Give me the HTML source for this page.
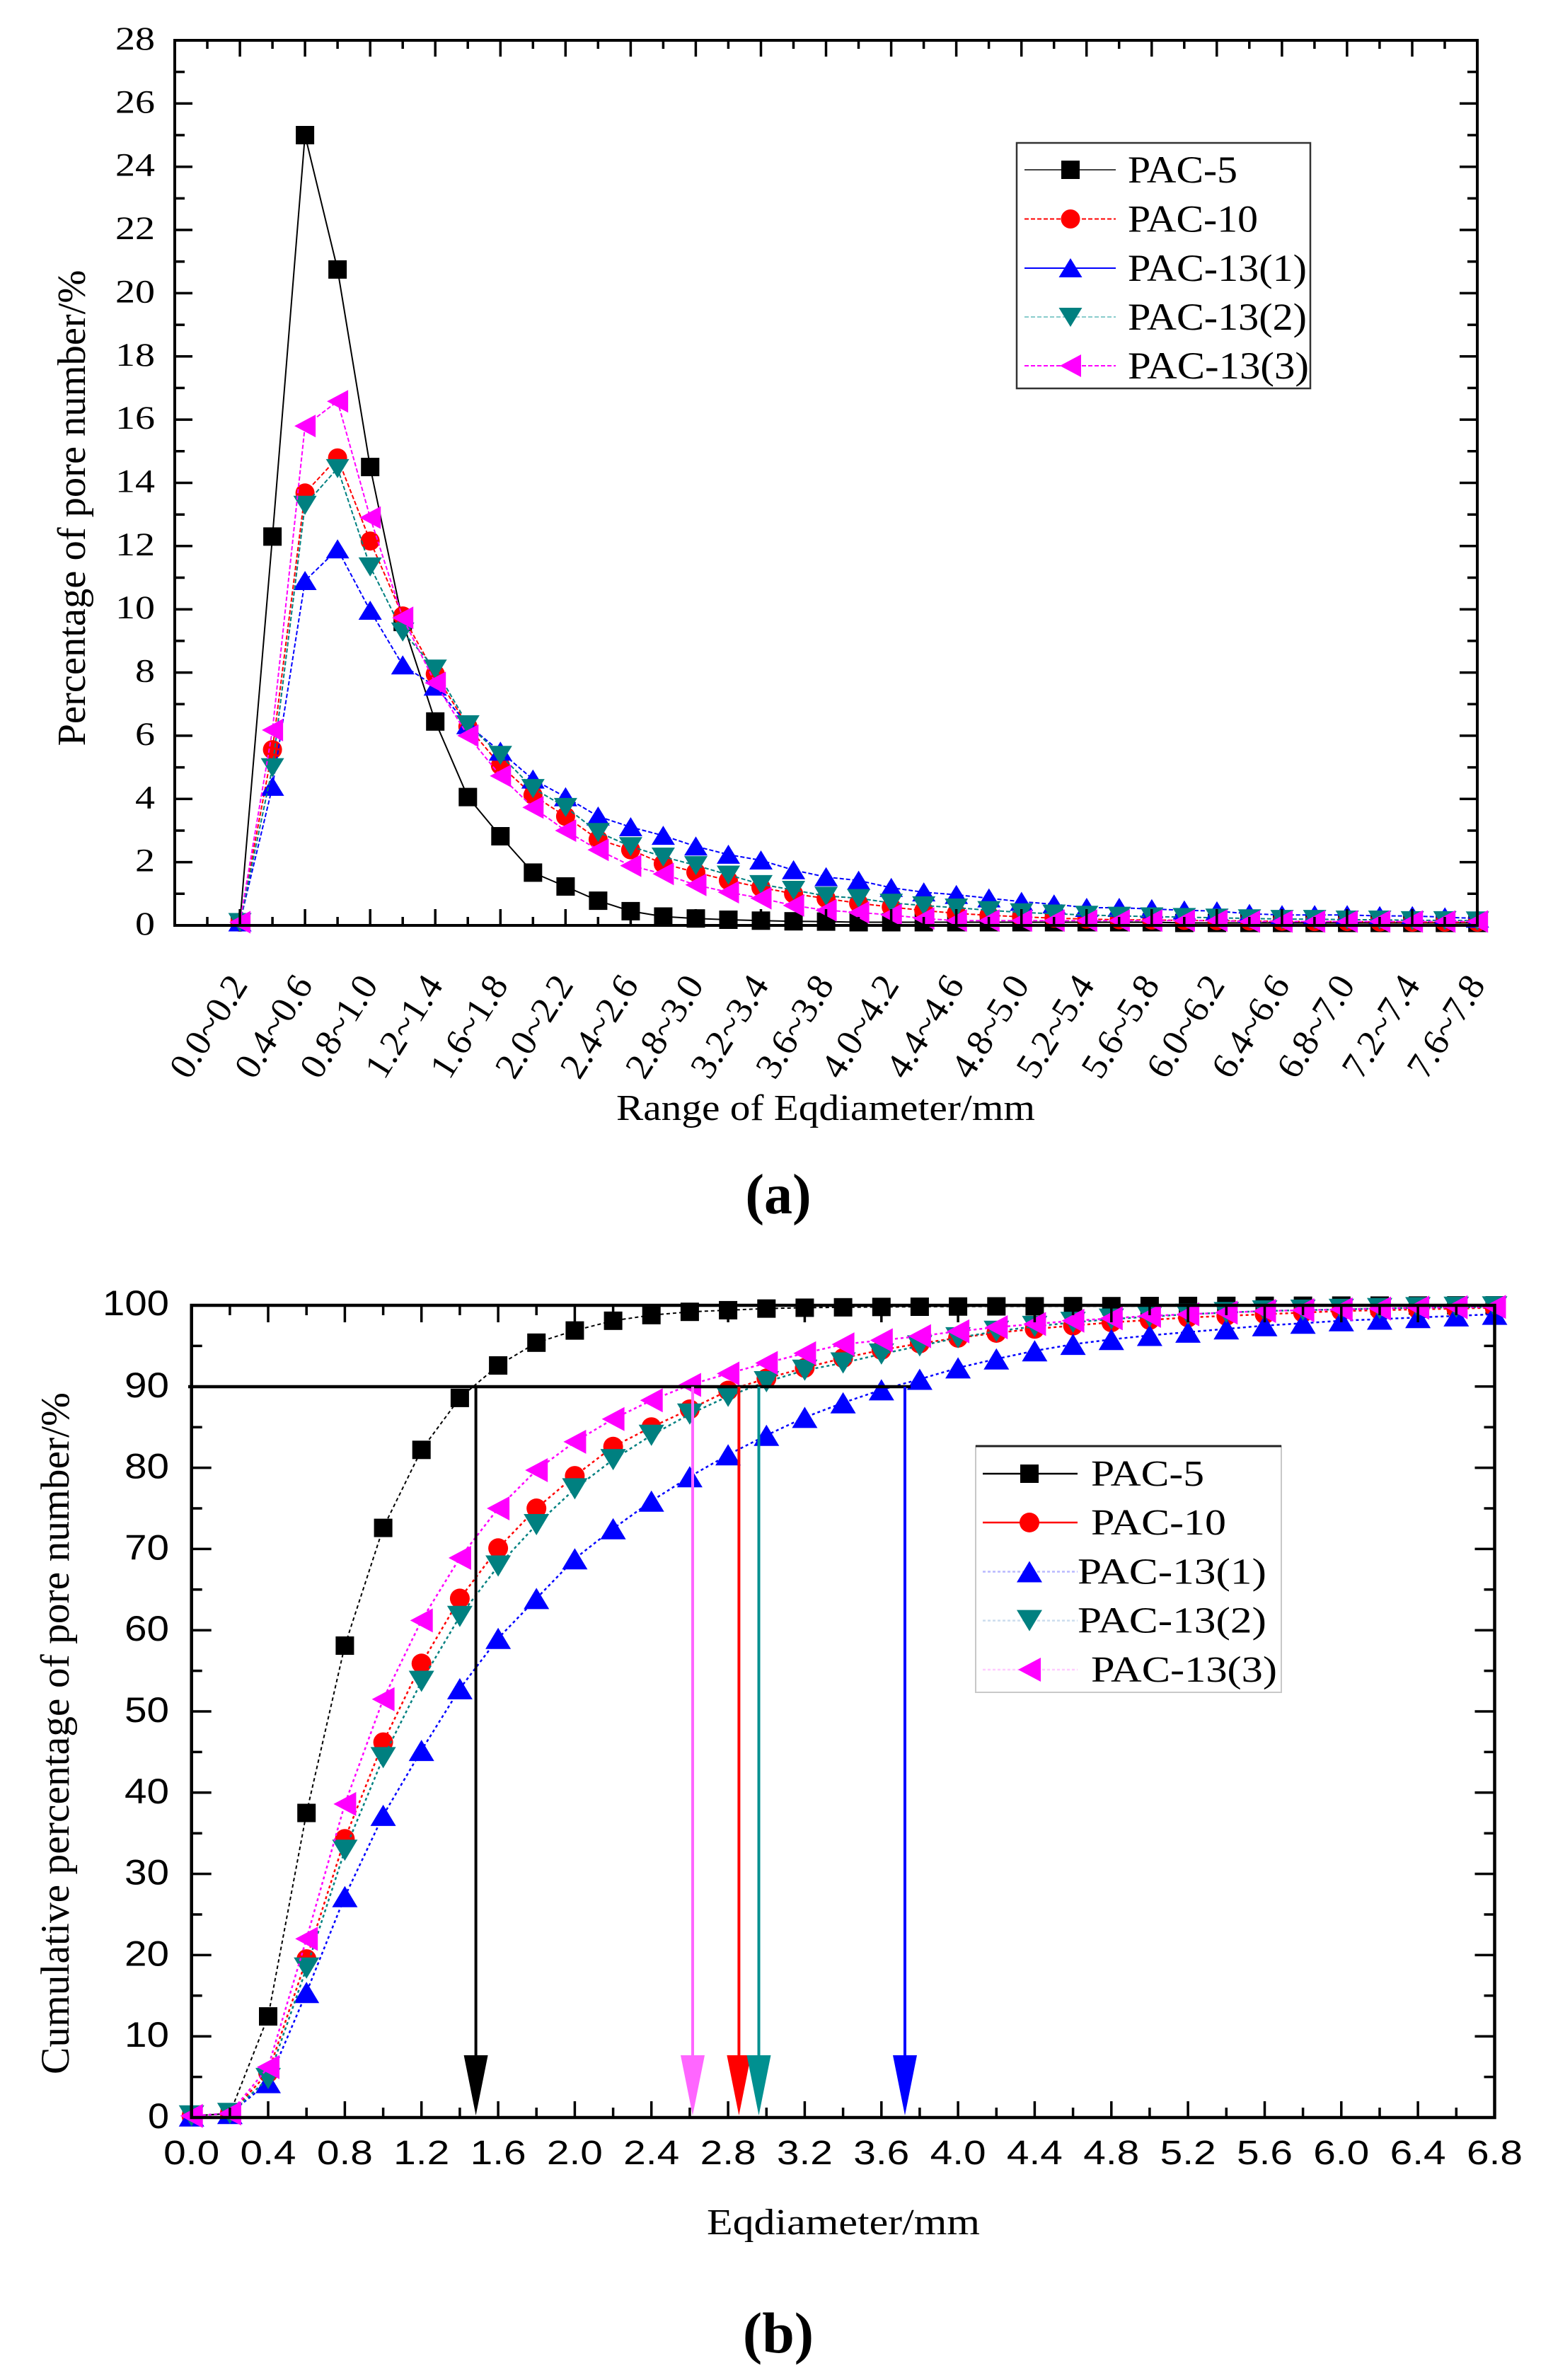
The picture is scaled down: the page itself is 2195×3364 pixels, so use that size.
<!DOCTYPE html>
<html><head><meta charset="utf-8"><style>html,body{margin:0;padding:0;background:#fff}svg{display:block}</style></head>
<body>
<svg xmlns="http://www.w3.org/2000/svg" width="2195" height="3364" viewBox="0 0 2195 3364">
<defs>
<marker id="aSq" markerUnits="userSpaceOnUse" viewBox="-30 -30 60 60" markerWidth="60" markerHeight="60" refX="0" refY="0" overflow="visible"><rect x="-13" y="-13" width="26" height="26" fill="#000"/></marker>
<marker id="aCi" markerUnits="userSpaceOnUse" viewBox="-30 -30 60 60" markerWidth="60" markerHeight="60" refX="0" refY="0" overflow="visible"><circle r="13.5" fill="#f00"/></marker>
<marker id="aUp" markerUnits="userSpaceOnUse" viewBox="-30 -30 60 60" markerWidth="60" markerHeight="60" refX="0" refY="0" overflow="visible"><polygon points="0,-14 16.5,13 -16.5,13" fill="#00f"/></marker>
<marker id="aDn" markerUnits="userSpaceOnUse" viewBox="-30 -30 60 60" markerWidth="60" markerHeight="60" refX="0" refY="0" overflow="visible"><polygon points="0,14 16.5,-13 -16.5,-13" fill="#008080"/></marker>
<marker id="aLt" markerUnits="userSpaceOnUse" viewBox="-30 -30 60 60" markerWidth="60" markerHeight="60" refX="0" refY="0" overflow="visible"><polygon points="-15,0 15,-16 15,16" fill="#f0f"/></marker>
<marker id="bSq" markerUnits="userSpaceOnUse" viewBox="-30 -30 60 60" markerWidth="60" markerHeight="60" refX="0" refY="0" overflow="visible"><rect x="-13" y="-13" width="26" height="26" fill="#000"/></marker>
<marker id="bCi" markerUnits="userSpaceOnUse" viewBox="-30 -30 60 60" markerWidth="60" markerHeight="60" refX="0" refY="0" overflow="visible"><circle r="14" fill="#f00"/></marker>
<marker id="bUp" markerUnits="userSpaceOnUse" viewBox="-30 -30 60 60" markerWidth="60" markerHeight="60" refX="0" refY="0" overflow="visible"><polygon points="0,-15 18,15 -18,15" fill="#00f"/></marker>
<marker id="bDn" markerUnits="userSpaceOnUse" viewBox="-30 -30 60 60" markerWidth="60" markerHeight="60" refX="0" refY="0" overflow="visible"><polygon points="0,15 18,-15 -18,-15" fill="#008080"/></marker>
<marker id="bLt" markerUnits="userSpaceOnUse" viewBox="-30 -30 60 60" markerWidth="60" markerHeight="60" refX="0" refY="0" overflow="visible"><polygon points="-16,0 16,-17 16,17" fill="#f0f"/></marker>
</defs>

<!-- ================= CHART (a) ================= -->
<g fill="none" stroke-linejoin="round">
<polyline stroke="#000" stroke-width="2" marker-start="url(#aSq)" marker-mid="url(#aSq)" marker-end="url(#aSq)" points="339.1,1303.5 385.1,758.4 431.1,191.0 477.1,380.9 523.2,660.1 569.2,879.1 615.2,1019.8 661.3,1126.6 707.3,1182.0 753.3,1233.4 799.4,1253.0 845.4,1273.1 891.4,1287.9 937.4,1295.5 983.5,1298.2 1029.5,1300.0 1075.5,1301.3 1121.6,1302.2 1167.6,1302.6 1213.6,1303.5 1259.7,1303.5 1305.7,1303.5 1351.7,1303.5 1397.8,1303.5 1443.8,1303.5 1489.8,1303.5 1535.9,1303.5 1581.9,1303.5 1627.9,1303.5 1673.9,1304.5 1720.0,1304.5 1766.0,1304.5 1812.0,1304.5 1858.1,1304.5 1904.1,1304.5 1950.1,1304.5 1996.2,1304.5 2042.2,1304.5 2088.2,1304.5"/>
<polyline stroke="#f00" stroke-width="2" stroke-dasharray="6 3" marker-start="url(#aCi)" marker-mid="url(#aCi)" marker-end="url(#aCi)" points="339.1,1303.5 385.1,1059.6 431.1,696.8 477.1,647.2 523.2,764.7 569.2,870.6 615.2,952.8 661.3,1027.0 707.3,1081.9 753.3,1123.9 799.4,1153.9 845.4,1186.5 891.4,1201.2 937.4,1220.9 983.5,1232.9 1029.5,1244.6 1075.5,1254.4 1121.6,1263.3 1167.6,1270.0 1213.6,1276.7 1259.7,1282.1 1305.7,1287.0 1351.7,1291.0 1397.8,1293.7 1443.8,1295.9 1489.8,1297.7 1535.9,1299.1 1581.9,1300.0 1627.9,1300.4 1673.9,1300.9 1720.0,1301.3 1766.0,1301.7 1812.0,1302.2 1858.1,1302.6 1904.1,1302.6 1950.1,1303.1 1996.2,1303.5 2042.2,1303.5 2088.2,1303.5"/>
<polyline stroke="#00f" stroke-width="2" stroke-dasharray="6 3" marker-start="url(#aUp)" marker-mid="url(#aUp)" marker-end="url(#aUp)" points="339.1,1303.5 385.1,1111.9 431.1,821.0 477.1,776.3 523.2,863.0 569.2,940.3 615.2,970.2 661.3,1024.7 707.3,1062.3 753.3,1101.6 799.4,1126.6 845.4,1153.9 891.4,1169.0 937.4,1181.1 983.5,1196.3 1029.5,1207.9 1075.5,1216.0 1121.6,1229.8 1167.6,1239.6 1213.6,1244.6 1259.7,1254.8 1305.7,1261.1 1351.7,1264.7 1397.8,1269.6 1443.8,1274.5 1489.8,1278.1 1535.9,1283.0 1581.9,1283.0 1627.9,1284.8 1673.9,1286.6 1720.0,1287.9 1766.0,1291.5 1812.0,1293.3 1858.1,1293.3 1904.1,1293.3 1950.1,1294.6 1996.2,1294.6 2042.2,1296.4 2088.2,1298.2"/>
<polyline stroke="#008080" stroke-width="2" stroke-dasharray="6 3" marker-start="url(#aDn)" marker-mid="url(#aDn)" marker-end="url(#aDn)" points="339.1,1303.5 385.1,1084.6 431.1,713.8 477.1,661.9 523.2,800.9 569.2,892.9 615.2,945.2 661.3,1024.0 707.3,1067.2 753.3,1114.1 799.4,1140.9 845.4,1176.2 891.4,1196.3 937.4,1211.0 983.5,1223.1 1029.5,1236.5 1075.5,1249.9 1121.6,1258.0 1167.6,1266.4 1213.6,1269.6 1259.7,1276.3 1305.7,1279.9 1351.7,1283.0 1397.8,1286.6 1443.8,1289.7 1489.8,1291.5 1535.9,1293.3 1581.9,1294.6 1627.9,1295.5 1673.9,1296.4 1720.0,1297.3 1766.0,1298.2 1812.0,1299.1 1858.1,1299.1 1904.1,1300.0 1950.1,1300.0 1996.2,1300.9 2042.2,1300.9 2088.2,1301.3"/>
<polyline stroke="#f0f" stroke-width="2" stroke-dasharray="6 3" marker-start="url(#aLt)" marker-mid="url(#aLt)" marker-end="url(#aLt)" points="339.1,1303.5 385.1,1031.9 431.1,602.1 477.1,567.2 523.2,731.6 569.2,873.3 615.2,965.3 661.3,1039.9 707.3,1096.7 753.3,1141.3 799.4,1174.0 845.4,1201.2 891.4,1223.6 937.4,1235.2 983.5,1250.8 1029.5,1261.1 1075.5,1269.6 1121.6,1279.9 1167.6,1286.6 1213.6,1289.7 1259.7,1293.3 1305.7,1298.2 1351.7,1301.3 1397.8,1301.3 1443.8,1301.3 1489.8,1301.3 1535.9,1301.3 1581.9,1301.3 1627.9,1301.3 1673.9,1301.3 1720.0,1301.3 1766.0,1302.5 1812.0,1302.5 1858.1,1302.5 1904.1,1302.5 1950.1,1302.5 1996.2,1302.5 2042.2,1302.5 2088.2,1302.5"/>
</g>

<!-- axes (a) -->
<rect x="247" y="57" width="1841" height="1251" fill="none" stroke="#000" stroke-width="4"/>
<path stroke="#000" stroke-width="3.5" fill="none" d="
M247,1218.6h25M247,1129.3h25M247,1039.9h25M247,950.6h25M247,861.2h25M247,771.8h25M247,682.5h25M247,593.1h25M247,503.8h25M247,414.4h25M247,325.0h25M247,235.7h25M247,146.3h25
M247,1263.3h14M247,1174.0h14M247,1084.6h14M247,995.2h14M247,905.9h14M247,816.5h14M247,727.2h14M247,637.8h14M247,548.4h14M247,459.1h14M247,369.7h14M247,280.4h14M247,191.0h14M247,101.6h14
M2088,1218.6h-25M2088,1129.3h-25M2088,1039.9h-25M2088,950.6h-25M2088,861.2h-25M2088,771.8h-25M2088,682.5h-25M2088,593.1h-25M2088,503.8h-25M2088,414.4h-25M2088,325.0h-25M2088,235.7h-25M2088,146.3h-25
M2088,1263.3h-14M2088,1174.0h-14M2088,1084.6h-14M2088,995.2h-14M2088,905.9h-14M2088,816.5h-14M2088,727.2h-14M2088,637.8h-14M2088,548.4h-14M2088,459.1h-14M2088,369.7h-14M2088,280.4h-14M2088,191.0h-14M2088,101.6h-14
M339.1,1308v-23M431.1,1308v-23M523.2,1308v-23M615.2,1308v-23M707.3,1308v-23M799.3,1308v-23M891.4,1308v-23M983.4,1308v-23M1075.5,1308v-23M1167.5,1308v-23M1259.6,1308v-23M1351.6,1308v-23M1443.7,1308v-23M1535.7,1308v-23M1627.8,1308v-23M1719.8,1308v-23M1811.9,1308v-23M1903.9,1308v-23M1996.0,1308v-23
M293.0,1308v-12M385.1,1308v-12M477.1,1308v-12M569.2,1308v-12M661.2,1308v-12M753.3,1308v-12M845.3,1308v-12M937.4,1308v-12M1029.4,1308v-12M1121.5,1308v-12M1213.5,1308v-12M1305.6,1308v-12M1397.6,1308v-12M1489.7,1308v-12M1581.7,1308v-12M1673.8,1308v-12M1765.8,1308v-12M1857.9,1308v-12M1949.9,1308v-12M2042.0,1308v-12
M339.1,57v23M431.1,57v23M523.2,57v23M615.2,57v23M707.3,57v23M799.3,57v23M891.4,57v23M983.4,57v23M1075.5,57v23M1167.5,57v23M1259.6,57v23M1351.6,57v23M1443.7,57v23M1535.7,57v23M1627.8,57v23M1719.8,57v23M1811.9,57v23M1903.9,57v23M1996.0,57v23
M293.0,57v12M385.1,57v12M477.1,57v12M569.2,57v12M661.2,57v12M753.3,57v12M845.3,57v12M937.4,57v12M1029.4,57v12M1121.5,57v12M1213.5,57v12M1305.6,57v12M1397.6,57v12M1489.7,57v12M1581.7,57v12M1673.8,57v12M1765.8,57v12M1857.9,57v12M1949.9,57v12M2042.0,57v12"/>

<!-- y labels (a) -->
<g font-family="Liberation Serif, serif" font-size="47" fill="#000" text-anchor="end">
<text x="219" y="1321" textLength="28" lengthAdjust="spacingAndGlyphs">0</text>
<text x="219" y="1231.6" textLength="28" lengthAdjust="spacingAndGlyphs">2</text>
<text x="219" y="1142.3" textLength="28" lengthAdjust="spacingAndGlyphs">4</text>
<text x="219" y="1052.9" textLength="28" lengthAdjust="spacingAndGlyphs">6</text>
<text x="219" y="963.6" textLength="28" lengthAdjust="spacingAndGlyphs">8</text>
<text x="219" y="874.2" textLength="56" lengthAdjust="spacingAndGlyphs">10</text>
<text x="219" y="784.8" textLength="56" lengthAdjust="spacingAndGlyphs">12</text>
<text x="219" y="695.5" textLength="56" lengthAdjust="spacingAndGlyphs">14</text>
<text x="219" y="606.1" textLength="56" lengthAdjust="spacingAndGlyphs">16</text>
<text x="219" y="516.8" textLength="56" lengthAdjust="spacingAndGlyphs">18</text>
<text x="219" y="427.4" textLength="56" lengthAdjust="spacingAndGlyphs">20</text>
<text x="219" y="338.0" textLength="56" lengthAdjust="spacingAndGlyphs">22</text>
<text x="219" y="248.7" textLength="56" lengthAdjust="spacingAndGlyphs">24</text>
<text x="219" y="159.3" textLength="56" lengthAdjust="spacingAndGlyphs">26</text>
<text x="219" y="70" textLength="56" lengthAdjust="spacingAndGlyphs">28</text>
</g>

<!-- x labels (a) -->
<g font-family="Liberation Serif, serif" font-size="52" fill="#000" text-anchor="end">
<text transform="translate(351.5,1392) rotate(-58)" textLength="160" lengthAdjust="spacingAndGlyphs">0.0~0.2</text>
<text transform="translate(443.5,1392) rotate(-58)" textLength="160" lengthAdjust="spacingAndGlyphs">0.4~0.6</text>
<text transform="translate(535.6,1392) rotate(-58)" textLength="160" lengthAdjust="spacingAndGlyphs">0.8~1.0</text>
<text transform="translate(627.6,1392) rotate(-58)" textLength="160" lengthAdjust="spacingAndGlyphs">1.2~1.4</text>
<text transform="translate(719.7,1392) rotate(-58)" textLength="160" lengthAdjust="spacingAndGlyphs">1.6~1.8</text>
<text transform="translate(811.8,1392) rotate(-58)" textLength="160" lengthAdjust="spacingAndGlyphs">2.0~2.2</text>
<text transform="translate(903.8,1392) rotate(-58)" textLength="160" lengthAdjust="spacingAndGlyphs">2.4~2.6</text>
<text transform="translate(995.9,1392) rotate(-58)" textLength="160" lengthAdjust="spacingAndGlyphs">2.8~3.0</text>
<text transform="translate(1087.9,1392) rotate(-58)" textLength="160" lengthAdjust="spacingAndGlyphs">3.2~3.4</text>
<text transform="translate(1180.0,1392) rotate(-58)" textLength="160" lengthAdjust="spacingAndGlyphs">3.6~3.8</text>
<text transform="translate(1272.1,1392) rotate(-58)" textLength="160" lengthAdjust="spacingAndGlyphs">4.0~4.2</text>
<text transform="translate(1364.1,1392) rotate(-58)" textLength="160" lengthAdjust="spacingAndGlyphs">4.4~4.6</text>
<text transform="translate(1456.2,1392) rotate(-58)" textLength="160" lengthAdjust="spacingAndGlyphs">4.8~5.0</text>
<text transform="translate(1548.3,1392) rotate(-58)" textLength="160" lengthAdjust="spacingAndGlyphs">5.2~5.4</text>
<text transform="translate(1640.3,1392) rotate(-58)" textLength="160" lengthAdjust="spacingAndGlyphs">5.6~5.8</text>
<text transform="translate(1732.4,1392) rotate(-58)" textLength="160" lengthAdjust="spacingAndGlyphs">6.0~6.2</text>
<text transform="translate(1824.4,1392) rotate(-58)" textLength="160" lengthAdjust="spacingAndGlyphs">6.4~6.6</text>
<text transform="translate(1916.5,1392) rotate(-58)" textLength="160" lengthAdjust="spacingAndGlyphs">6.8~7.0</text>
<text transform="translate(2008.6,1392) rotate(-58)" textLength="160" lengthAdjust="spacingAndGlyphs">7.2~7.4</text>
<text transform="translate(2100.6,1392) rotate(-58)" textLength="160" lengthAdjust="spacingAndGlyphs">7.6~7.8</text>
</g>

<g font-family="Liberation Serif, serif" fill="#000">
<text x="871" y="1583" font-size="52" textLength="592" lengthAdjust="spacingAndGlyphs">Range of Eqdiameter/mm</text>
<text transform="translate(120,718) rotate(-90)" text-anchor="middle" font-size="56" textLength="673" lengthAdjust="spacingAndGlyphs">Percentage of pore number/%</text>
<text x="1100" y="1715" text-anchor="middle" font-size="80" font-weight="bold">(a)</text>
</g>

<!-- legend (a) -->
<rect x="1437" y="202" width="415" height="347" fill="#fff" stroke="#333" stroke-width="2.5"/>
<g fill="none" stroke-width="2">
<polyline stroke="#444" points="1448,240 1513,240 1577,240" marker-mid="url(#aSq)"/>
<polyline stroke="#f00" stroke-dasharray="6 3" points="1448,309.5 1513,309.5 1577,309.5" marker-mid="url(#aCi)"/>
<polyline stroke="#00f" points="1448,379 1513,379 1577,379" marker-mid="url(#aUp)"/>
<polyline stroke="#8cc" stroke-dasharray="6 3" points="1448,448 1513,448 1577,448" marker-mid="url(#aDn)"/>
<polyline stroke="#f0f" stroke-dasharray="6 3" points="1448,517 1513,517 1577,517" marker-mid="url(#aLt)"/>
</g>
<g font-family="Liberation Serif, serif" font-size="54" fill="#000">
<text x="1594" y="258" textLength="155" lengthAdjust="spacingAndGlyphs">PAC-5</text>
<text x="1594" y="327.5" textLength="184" lengthAdjust="spacingAndGlyphs">PAC-10</text>
<text x="1594" y="397" textLength="253" lengthAdjust="spacingAndGlyphs">PAC-13(1)</text>
<text x="1594" y="466" textLength="253" lengthAdjust="spacingAndGlyphs">PAC-13(2)</text>
<text x="1594" y="535" textLength="256" lengthAdjust="spacingAndGlyphs">PAC-13(3)</text>
</g>

<!-- ================= CHART (b) ================= -->
<g fill="none" stroke-linejoin="round">
<polyline stroke="#000" stroke-width="2" stroke-dasharray="5 4" marker-start="url(#bSq)" marker-mid="url(#bSq)" marker-end="url(#bSq)" points="270.7,2990.7 324.9,2987.3 379.0,2850.1 433.2,2562.5 487.4,2326.0 541.6,2159.6 595.7,2049.3 649.9,1975.9 704.1,1930.0 758.2,1897.8 812.4,1880.6 866.6,1866.8 920.7,1858.8 974.9,1854.2 1029.1,1851.9 1083.3,1849.6 1137.4,1848.4 1191.6,1847.8 1245.8,1847.3 1299.9,1847.0 1354.1,1846.7 1408.3,1846.5 1462.4,1846.4 1516.6,1846.2 1570.8,1846.2 1624.9,1846.0 1679.1,1845.9 1733.3,1845.8 1787.5,1845.7 1841.6,1845.6 1895.8,1845.4 1950.0,1845.4 2004.1,1845.3 2058.3,1845.1 2112.5,1845.0"/>
<polyline stroke="#f00" stroke-width="2.5" stroke-dasharray="4 4" marker-start="url(#bCi)" marker-mid="url(#bCi)" marker-end="url(#bCi)" points="270.7,2990.7 324.9,2987.3 379.0,2929.9 433.2,2769.1 487.4,2599.2 541.6,2462.6 595.7,2351.3 649.9,2259.4 704.1,2188.3 758.2,2132.0 812.4,2086.1 866.6,2044.8 920.7,2017.2 974.9,1992.0 1029.1,1965.5 1083.3,1948.3 1137.4,1933.4 1191.6,1919.6 1245.8,1908.1 1299.9,1899.0 1354.1,1890.9 1408.3,1884.0 1462.4,1878.3 1516.6,1873.7 1570.8,1869.1 1624.9,1865.7 1679.1,1862.2 1733.3,1859.9 1787.5,1857.6 1841.6,1855.3 1895.8,1853.0 1950.0,1851.9 2004.1,1850.7 2058.3,1849.6 2112.5,1848.4"/>
<polyline stroke="#00f" stroke-width="2.5" stroke-dasharray="4 4" marker-start="url(#bUp)" marker-mid="url(#bUp)" marker-end="url(#bUp)" points="270.7,2990.7 324.9,2987.3 379.0,2943.6 433.2,2816.2 487.4,2680.7 541.6,2565.9 595.7,2474.1 649.9,2386.9 704.1,2315.7 758.2,2259.4 812.4,2203.2 866.6,2160.7 920.7,2121.7 974.9,2087.2 1029.1,2056.2 1083.3,2028.7 1137.4,2003.4 1191.6,1982.8 1245.8,1964.4 1299.9,1949.5 1354.1,1933.4 1408.3,1920.8 1462.4,1909.3 1516.6,1900.1 1570.8,1893.2 1624.9,1887.5 1679.1,1882.9 1733.3,1878.3 1787.5,1873.7 1841.6,1870.3 1895.8,1866.8 1950.0,1864.5 2004.1,1862.2 2058.3,1859.9 2112.5,1857.6"/>
<polyline stroke="#008080" stroke-width="2.5" stroke-dasharray="4 4" marker-start="url(#bDn)" marker-mid="url(#bDn)" marker-end="url(#bDn)" points="270.7,2990.7 324.9,2987.3 379.0,2937.9 433.2,2781.8 487.4,2615.3 541.6,2484.4 595.7,2376.5 649.9,2284.7 704.1,2213.5 758.2,2155.0 812.4,2104.4 866.6,2063.1 920.7,2028.7 974.9,1998.8 1029.1,1973.6 1083.3,1953.0 1137.4,1936.8 1191.6,1926.5 1245.8,1913.9 1299.9,1902.4 1354.1,1890.9 1408.3,1881.7 1462.4,1874.9 1516.6,1869.1 1570.8,1864.5 1624.9,1861.1 1679.1,1857.6 1733.3,1855.3 1787.5,1853.0 1841.6,1851.9 1895.8,1850.7 1950.0,1849.6 2004.1,1848.4 2058.3,1847.8 2112.5,1847.3"/>
<polyline stroke="#f0f" stroke-width="2.5" stroke-dasharray="4 4" marker-start="url(#bLt)" marker-mid="url(#bLt)" marker-end="url(#bLt)" points="270.7,2990.7 324.9,2987.3 379.0,2921.8 433.2,2740.4 487.4,2549.9 541.6,2401.8 595.7,2290.4 649.9,2202.0 704.1,2132.0 758.2,2078.0 812.4,2037.9 866.6,2005.7 920.7,1979.3 974.9,1957.5 1029.1,1941.4 1083.3,1926.5 1137.4,1912.7 1191.6,1900.1 1245.8,1894.4 1299.9,1888.6 1354.1,1881.7 1408.3,1876.0 1462.4,1871.4 1516.6,1866.8 1570.8,1863.4 1624.9,1859.9 1679.1,1857.6 1733.3,1855.3 1787.5,1853.0 1841.6,1851.9 1895.8,1850.7 1950.0,1849.6 2004.1,1848.4 2058.3,1847.8 2112.5,1847.3"/>
</g>

<!-- arrows (b) -->
<g stroke-width="4" fill="none">
<line x1="266" y1="1960" x2="1287" y2="1960" stroke="#000" stroke-width="4.5"/>
<line x1="672.6" y1="1960" x2="672.6" y2="2910" stroke="#000"/>
<line x1="979" y1="1960" x2="979" y2="2910" stroke="#ff66ff"/>
<line x1="1044.4" y1="1960" x2="1044.4" y2="2910" stroke="#f00"/>
<line x1="1072.5" y1="1960" x2="1072.5" y2="2910" stroke="#009090"/>
<line x1="1279" y1="1960" x2="1279" y2="2910" stroke="#00f"/>
</g>
<polygon points="655.6,2905 689.6,2905 672.6,2990" fill="#000"/>
<polygon points="962,2905 996,2905 979,2990" fill="#ff66ff"/>
<polygon points="1027.4,2905 1061.4,2905 1044.4,2990" fill="#f00"/>
<polygon points="1055.5,2905 1089.5,2905 1072.5,2990" fill="#009090"/>
<polygon points="1262,2905 1296,2905 1279,2990" fill="#00f"/>

<!-- axes (b) -->
<rect x="270.7" y="1845" width="1841.8" height="1148" fill="none" stroke="#000" stroke-width="4.5"/>
<path stroke="#000" stroke-width="3.5" fill="none" d="
M379.0,2993v-23M487.4,2993v-23M595.7,2993v-23M704.1,2993v-23M812.4,2993v-23M920.7,2993v-23M1029.1,2993v-23M1137.4,2993v-23M1245.8,2993v-23M1354.1,2993v-23M1462.4,2993v-23M1570.8,2993v-23M1679.1,2993v-23M1787.5,2993v-23M1895.8,2993v-23M2004.1,2993v-23
M324.9,2993v-14M433.2,2993v-14M541.6,2993v-14M649.9,2993v-14M758.2,2993v-14M866.6,2993v-14M974.9,2993v-14M1083.3,2993v-14M1191.6,2993v-14M1299.9,2993v-14M1408.3,2993v-14M1516.6,2993v-14M1624.9,2993v-14M1733.3,2993v-14M1841.6,2993v-14M1950.0,2993v-14M2058.3,2993v-14
M379.0,1845v24M487.4,1845v24M595.7,1845v24M704.1,1845v24M812.4,1845v24M920.7,1845v24M1029.1,1845v24M1137.4,1845v24M1245.8,1845v24M1354.1,1845v24M1462.4,1845v24M1570.8,1845v24M1679.1,1845v24M1787.5,1845v24M1895.8,1845v24M2004.1,1845v24
M324.9,1845v14M433.2,1845v14M541.6,1845v14M649.9,1845v14M758.2,1845v14M866.6,1845v14M974.9,1845v14M1083.3,1845v14M1191.6,1845v14M1299.9,1845v14M1408.3,1845v14M1516.6,1845v14M1624.9,1845v14M1733.3,1845v14M1841.6,1845v14M1950.0,1845v14M2058.3,1845v14
M270.7,2878.2h28M270.7,2763.4h28M270.7,2648.6h28M270.7,2533.8h28M270.7,2419.0h28M270.7,2304.2h28M270.7,2189.4h28M270.7,2074.6h28M270.7,1959.8h28
M270.7,2935.6h15M270.7,2820.8h15M270.7,2706.0h15M270.7,2591.2h15M270.7,2476.4h15M270.7,2361.6h15M270.7,2246.8h15M270.7,2132.0h15M270.7,2017.2h15M270.7,1902.4h15
M2112.5,2878.2h-28M2112.5,2763.4h-28M2112.5,2648.6h-28M2112.5,2533.8h-28M2112.5,2419.0h-28M2112.5,2304.2h-28M2112.5,2189.4h-28M2112.5,2074.6h-28M2112.5,1959.8h-28
M2112.5,2935.6h-15M2112.5,2820.8h-15M2112.5,2706.0h-15M2112.5,2591.2h-15M2112.5,2476.4h-15M2112.5,2361.6h-15M2112.5,2246.8h-15M2112.5,2132.0h-15M2112.5,2017.2h-15M2112.5,1902.4h-15"/>

<!-- y labels (b) -->
<g font-family="Liberation Sans, sans-serif" font-size="50" fill="#000" text-anchor="end">
<text x="239" y="3008" textLength="30" lengthAdjust="spacingAndGlyphs">0</text>
<text x="239" y="2893.2" textLength="63" lengthAdjust="spacingAndGlyphs">10</text>
<text x="239" y="2778.4" textLength="63" lengthAdjust="spacingAndGlyphs">20</text>
<text x="239" y="2663.6" textLength="63" lengthAdjust="spacingAndGlyphs">30</text>
<text x="239" y="2548.8" textLength="63" lengthAdjust="spacingAndGlyphs">40</text>
<text x="239" y="2434.0" textLength="63" lengthAdjust="spacingAndGlyphs">50</text>
<text x="239" y="2319.2" textLength="63" lengthAdjust="spacingAndGlyphs">60</text>
<text x="239" y="2204.4" textLength="63" lengthAdjust="spacingAndGlyphs">70</text>
<text x="239" y="2089.6" textLength="63" lengthAdjust="spacingAndGlyphs">80</text>
<text x="239" y="1974.8" textLength="63" lengthAdjust="spacingAndGlyphs">90</text>
<text x="239" y="1859" textLength="94" lengthAdjust="spacingAndGlyphs">100</text>
</g>

<!-- x labels (b) -->
<g font-family="Liberation Sans, sans-serif" font-size="48" fill="#000" text-anchor="middle">
<text x="270.7" y="3059" textLength="79" lengthAdjust="spacingAndGlyphs">0.0</text>
<text x="379.0" y="3059" textLength="79" lengthAdjust="spacingAndGlyphs">0.4</text>
<text x="487.4" y="3059" textLength="79" lengthAdjust="spacingAndGlyphs">0.8</text>
<text x="595.7" y="3059" textLength="79" lengthAdjust="spacingAndGlyphs">1.2</text>
<text x="704.1" y="3059" textLength="79" lengthAdjust="spacingAndGlyphs">1.6</text>
<text x="812.4" y="3059" textLength="79" lengthAdjust="spacingAndGlyphs">2.0</text>
<text x="920.7" y="3059" textLength="79" lengthAdjust="spacingAndGlyphs">2.4</text>
<text x="1029.1" y="3059" textLength="79" lengthAdjust="spacingAndGlyphs">2.8</text>
<text x="1137.4" y="3059" textLength="79" lengthAdjust="spacingAndGlyphs">3.2</text>
<text x="1245.8" y="3059" textLength="79" lengthAdjust="spacingAndGlyphs">3.6</text>
<text x="1354.1" y="3059" textLength="79" lengthAdjust="spacingAndGlyphs">4.0</text>
<text x="1462.4" y="3059" textLength="79" lengthAdjust="spacingAndGlyphs">4.4</text>
<text x="1570.8" y="3059" textLength="79" lengthAdjust="spacingAndGlyphs">4.8</text>
<text x="1679.1" y="3059" textLength="79" lengthAdjust="spacingAndGlyphs">5.2</text>
<text x="1787.5" y="3059" textLength="79" lengthAdjust="spacingAndGlyphs">5.6</text>
<text x="1895.8" y="3059" textLength="79" lengthAdjust="spacingAndGlyphs">6.0</text>
<text x="2004.1" y="3059" textLength="79" lengthAdjust="spacingAndGlyphs">6.4</text>
<text x="2112.5" y="3059" textLength="79" lengthAdjust="spacingAndGlyphs">6.8</text>
</g>

<g font-family="Liberation Serif, serif" fill="#000">
<text x="999" y="3158" font-size="52" textLength="386" lengthAdjust="spacingAndGlyphs">Eqdiameter/mm</text>
<text transform="translate(97,2450) rotate(-90)" text-anchor="middle" font-size="57" textLength="964" lengthAdjust="spacingAndGlyphs">Cumulative percentage of pore number/%</text>
<text x="1100" y="3325" text-anchor="middle" font-size="82" font-weight="bold">(b)</text>
</g>

<!-- legend (b) -->
<rect x="1379" y="2044" width="432" height="348" fill="#fff" stroke="#c8c8c8" stroke-width="2"/>
<line x1="1379" y1="2044" x2="1811" y2="2044" stroke="#222" stroke-width="3"/>
<g fill="none" stroke-width="2.5">
<polyline stroke="#000" points="1389,2083 1455,2083 1523,2083" marker-mid="url(#bSq)"/>
<polyline stroke="#f00" points="1389,2152 1455,2152 1523,2152" marker-mid="url(#bCi)"/>
<polyline stroke="#b8b8ff" stroke-dasharray="4 3" points="1389,2221.5 1455,2221.5 1523,2221.5" marker-mid="url(#bUp)"/>
<polyline stroke="#cde" stroke-dasharray="4 3" points="1389,2290.6 1455,2290.6 1523,2290.6" marker-mid="url(#bDn)"/>
<polyline stroke="#fcf" stroke-dasharray="4 3" points="1389,2360 1455,2360 1523,2360" marker-mid="url(#bLt)"/>
</g>
<g font-family="Liberation Serif, serif" font-size="52" fill="#000">
<text x="1542" y="2100" textLength="160" lengthAdjust="spacingAndGlyphs">PAC-5</text>
<text x="1542" y="2169" textLength="191" lengthAdjust="spacingAndGlyphs">PAC-10</text>
<text x="1523" y="2238.5" textLength="267" lengthAdjust="spacingAndGlyphs">PAC-13(1)</text>
<text x="1523" y="2307.6" textLength="267" lengthAdjust="spacingAndGlyphs">PAC-13(2)</text>
<text x="1542" y="2377" textLength="263" lengthAdjust="spacingAndGlyphs">PAC-13(3)</text>
</g>
</svg>
</body></html>
